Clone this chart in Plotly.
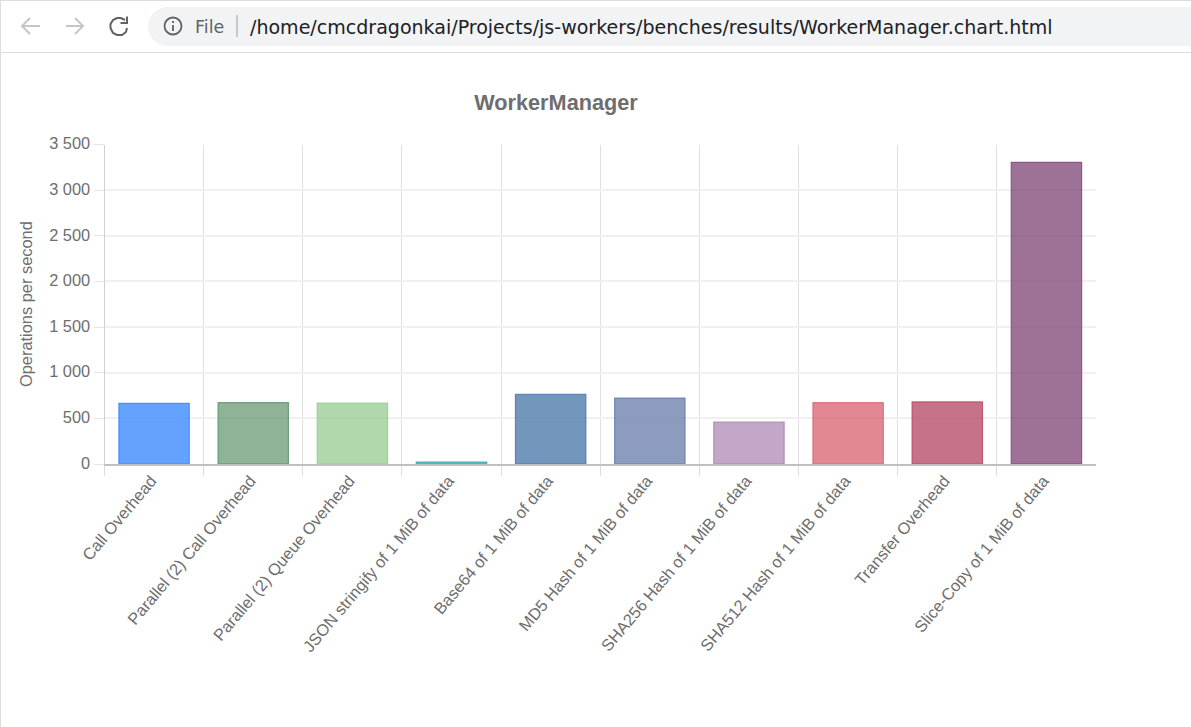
import plotly.graph_objects as go

W, H = 1191, 727
categories = ["Call Overhead", "Parallel (2) Call Overhead", "Parallel (2) Queue Overhead",
              "JSON stringify of 1 MiB of data", "Base64 of 1 MiB of data", "MD5 Hash of 1 MiB of data",
              "SHA256 Hash of 1 MiB of data", "SHA512 Hash of 1 MiB of data", "Transfer Overhead",
              "Slice-Copy of 1 MiB of data"]
values = [665, 672, 668, 22, 762, 722, 460, 672, 680, 3305]
fill_colors = ["rgba(51,133,255,0.76)", "rgba(103,153,115,0.74)", "rgba(150,203,145,0.74)", "rgba(60,170,180,0.76)",
               "rgba(75,120,170,0.78)", "rgba(105,125,170,0.76)", "rgba(165,120,170,0.65)", "rgba(215,95,110,0.74)",
               "rgba(180,70,100,0.76)", "rgba(125,65,115,0.75)"]
line_colors = ["rgba(51,133,255,0.8)", "rgba(80,140,100,0.75)", "rgba(150,203,145,0.8)", "rgba(50,170,180,0.9)",
               "rgba(70,115,170,0.8)", "rgba(95,120,175,0.8)", "rgba(165,120,170,0.75)", "rgba(220,95,115,0.8)",
               "rgba(185,65,100,0.8)", "rgba(130,65,120,0.8)"]
text_color = "#6e6e6e"

def X(p): return p / W
def Y(p): return 1 - p / H

def line(x0, y0, x1, y1, color, width=2):
    return dict(type="line", xref="paper", yref="paper", x0=X(x0), x1=X(x1), y0=Y(y0), y1=Y(y1),
                line=dict(color=color, width=width), layer="above")

def path(points, color, width=2):
    d = "M" + " L".join(f"{X(a):.5f},{Y(b):.5f}" for a, b in points)
    return dict(type="path", xref="paper", yref="paper", path=d, line=dict(color=color, width=width), layer="above")

shapes = [
    dict(type="rect", xref="paper", yref="paper", x0=X(167), x1=X(1200), y0=Y(46), y1=Y(7),
         fillcolor="#f1f3f4", line_width=0, layer="below"),
    dict(type="circle", xref="paper", yref="paper", x0=X(148), x1=X(187), y0=Y(46), y1=Y(7),
         fillcolor="#f1f3f4", line_width=0, layer="below"),
    line(0, 0.5, W, 0.5, "#dadce0", 1),
    line(0, 52.5, W, 52.5, "#dadce0", 1),
    line(0.5, 0, 0.5, H, "#dadce0", 1),
    line(237, 15, 237, 37, "#9aa0a6", 1),
    path([(40, 26), (23, 26)], "#c4c6c9"), path([(30, 18), (22, 26), (30, 34)], "#c4c6c9"),
    path([(66, 26), (83, 26)], "#c4c6c9"), path([(75, 18), (83, 26), (75, 34)], "#c4c6c9"),
    path([(125, 20), (121, 18), (117, 18), (113, 20), (110.5, 24), (110.5, 28), (113, 33), (117, 35), (122, 35), (126, 32), (127, 28)], "#5f6368"),
    path([(120.5, 23), (127, 23), (127, 16.5)], "#5f6368"),
    dict(type="circle", xref="paper", yref="paper", x0=X(164.5), x1=X(181.5), y0=Y(34.5), y1=Y(17.5),
         line=dict(color="#5f6368", width=1.8), layer="above"),
    line(173, 25, 173, 31, "#5f6368", 1.8),
    line(173, 21, 173, 23, "#5f6368", 1.8),
    line(1097, 144, 1097, 476, "#ffffff", 2),
]

annotations = [
    dict(text="File", xref="paper", yref="paper", x=X(193), y=Y(26.5), xanchor="left", yanchor="middle",
         showarrow=False, font=dict(family="DejaVu Sans", size=17.5, color="#5f6368")),
    dict(text="/home/cmcdragonkai/Projects/js-workers/benches/results/WorkerManager.chart.html",
         xref="paper", yref="paper", x=X(248), y=Y(26.5), xanchor="left", yanchor="middle",
         showarrow=False, font=dict(family="DejaVu Sans", size=19.05, color="#202124")),
    dict(text="Operations per second", xref="paper", yref="paper", x=X(26.5), y=Y(304.5), xanchor="center",
         yanchor="middle", textangle=-90, showarrow=False, font=dict(size=16.4, color=text_color)),
]

fig = go.Figure(go.Bar(x=categories, y=values, width=0.71,
                       marker=dict(color=fill_colors, line=dict(color=line_colors, width=1.2))))
font = "Liberation Sans"
fig.update_layout(
    width=W, height=H, autosize=False, margin=dict(l=0, r=0, t=0, b=0),
    paper_bgcolor="white", plot_bgcolor="white", showlegend=False, separators=". ",
    font=dict(family=font, color=text_color, size=16.4),
    title=dict(text="<b>WorkerManager</b>", x=556/W, xanchor="center", y=Y(102), yanchor="middle",
               font=dict(family=font, size=21.7, color=text_color)),
    shapes=shapes, annotations=annotations,
    xaxis=dict(domain=[X(104.5), X(1096)], type="category", tickson="boundaries", ticks="outside", ticklen=10,
               tickcolor="#dddddd", tickwidth=1, showgrid=True, gridcolor="#e0e0e0", gridwidth=1,
               tickangle=-50, showline=True, linecolor="#c0c0c0", linewidth=1.5, zeroline=False, automargin=False,
               ticklabelshift=-3, ticklabelstandoff=-1,
               tickfont=dict(size=16.4, color=text_color), range=[-0.5, 9.5]),
    yaxis=dict(domain=[Y(464), Y(144.5)], range=[0, 3500], dtick=500, tickformat=",", ticks="outside",
               ticklen=10, tickcolor="#e5e5e5", gridcolor="#f0f0f0", gridwidth=1.5, automargin=False,
               showline=True, linecolor="#d0d0d0", linewidth=1, zeroline=False,
               ticklabelshift=-1, tickfont=dict(size=16.4, color=text_color)),
)
fig.write_html("out.html", config={"displayModeBar": False}, post_script="document.body.style.margin='0';")
